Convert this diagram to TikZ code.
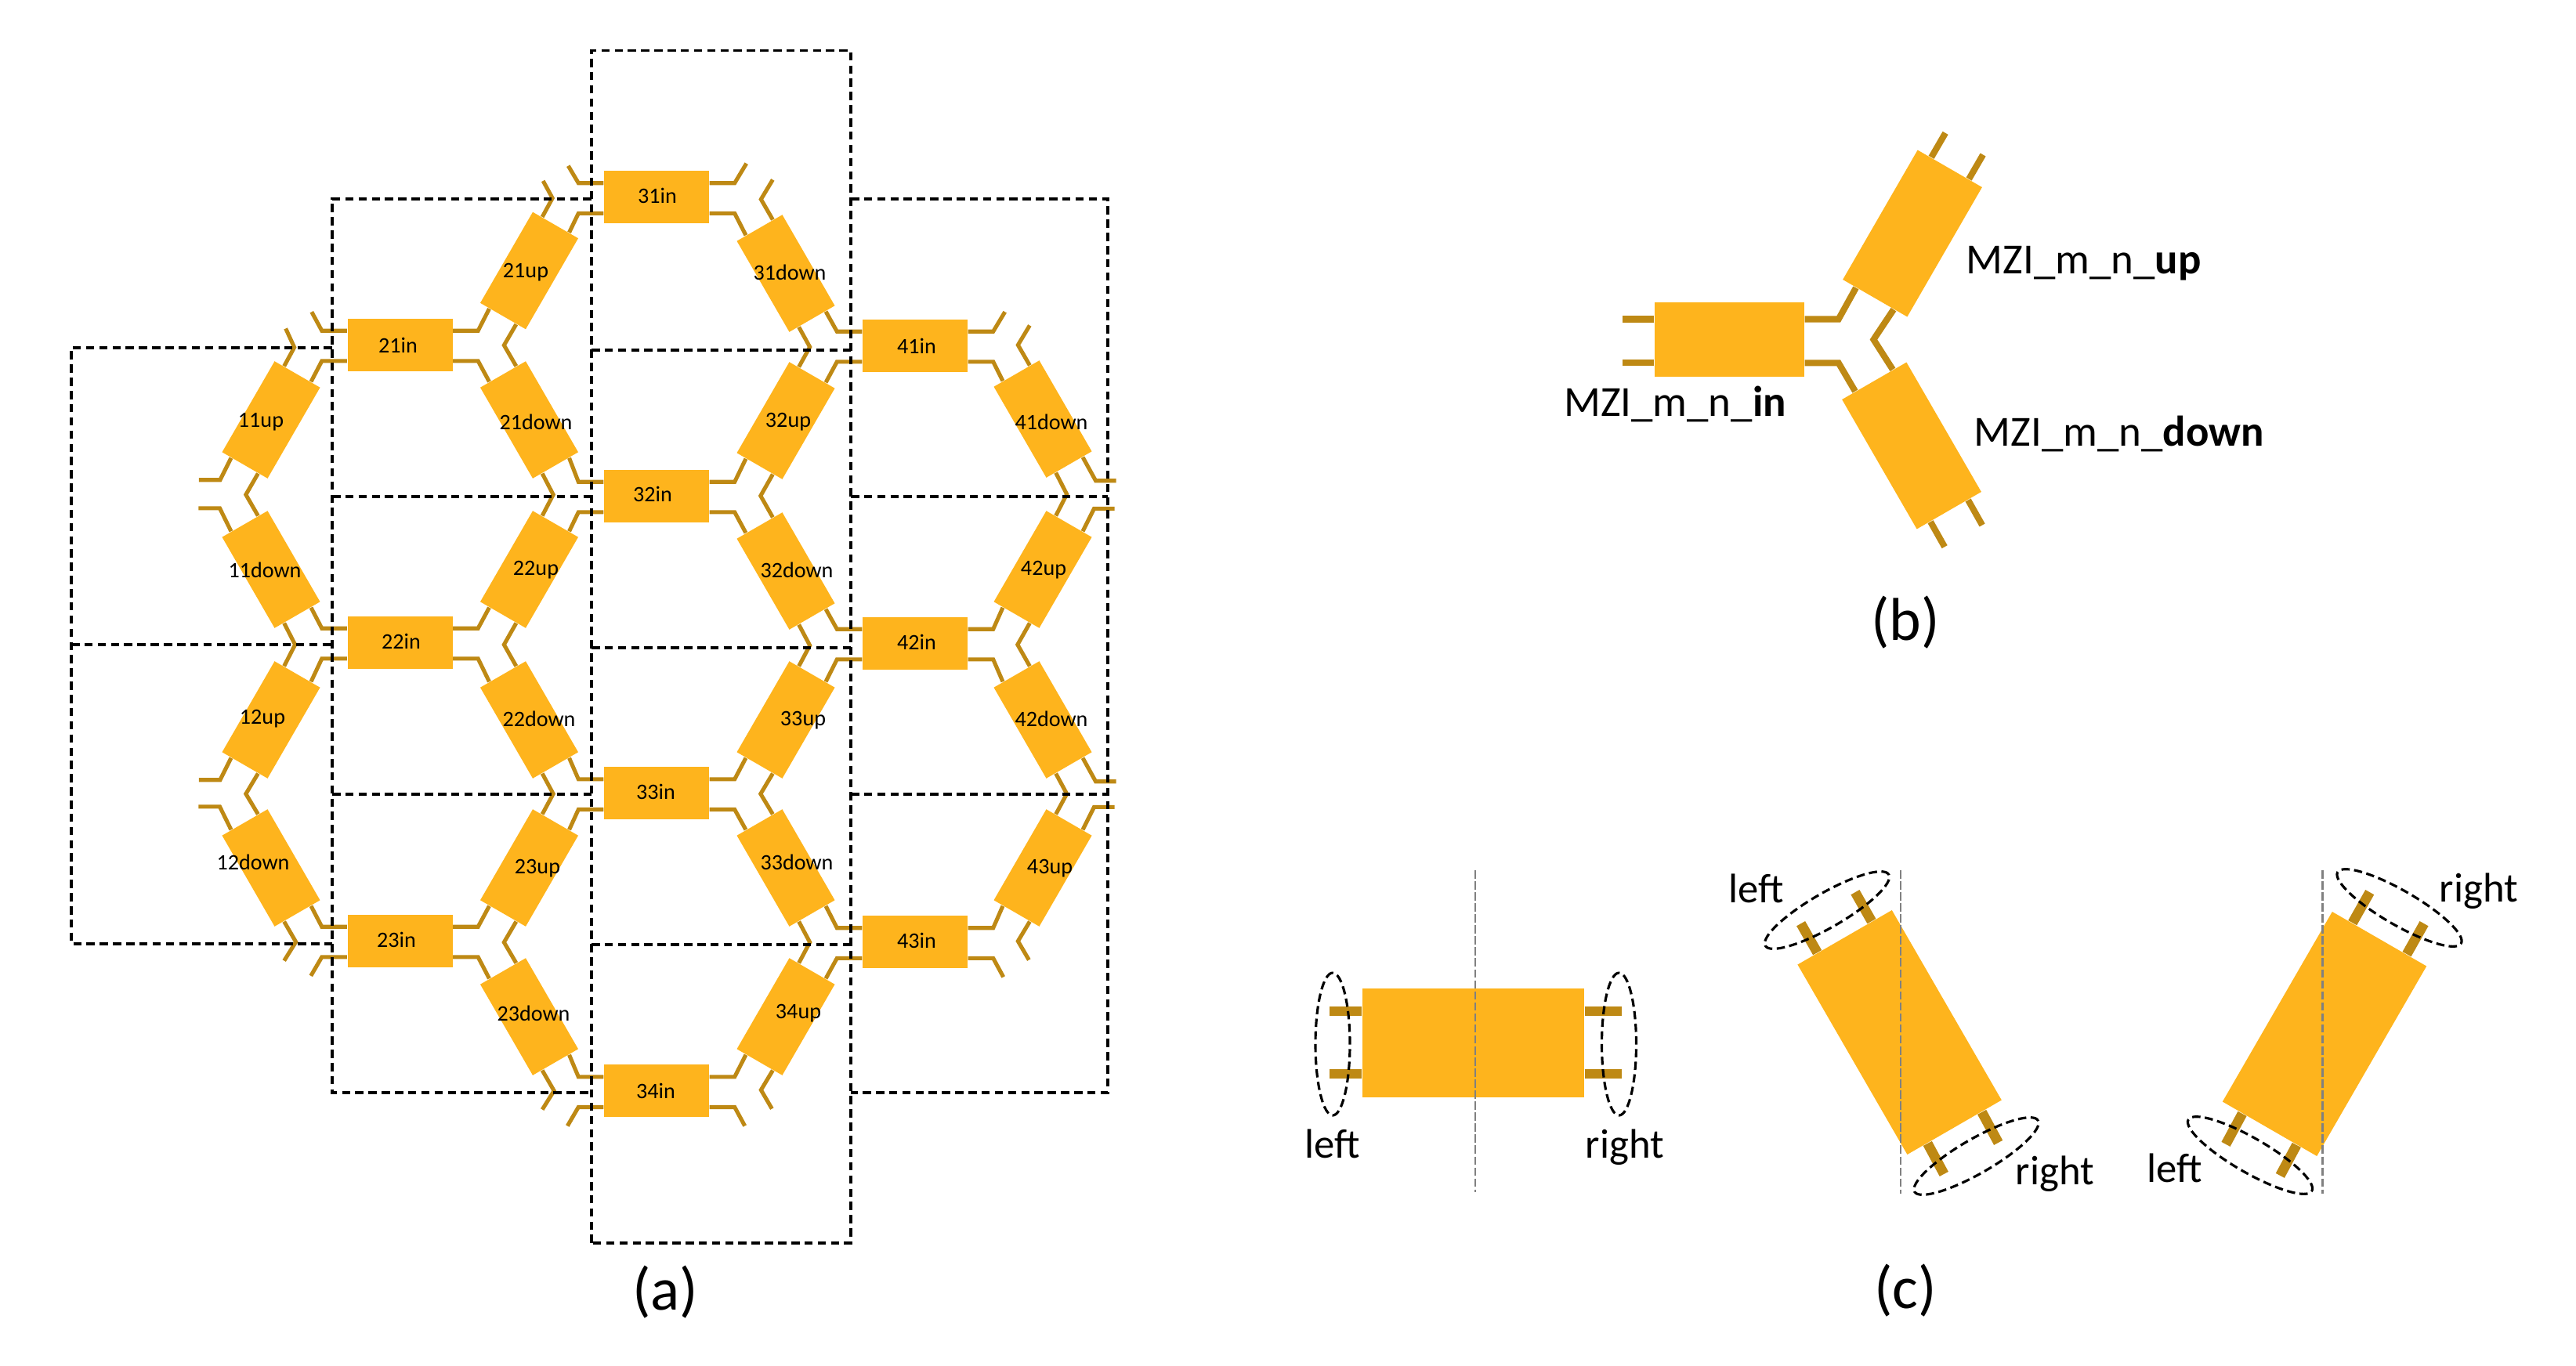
\documentclass[tikz,border=0pt]{standalone}
\usepackage{fontspec}
\setmainfont{Carlito}
\usetikzlibrary{positioning,calc,shapes.geometric}
\definecolor{mzifill}{RGB}{254,180,29}
\definecolor{stubcolor}{RGB}{190,137,20}
\tikzset{>=latex,
  mzi/.style={fill=mzifill, minimum width=1.34cm, minimum height=0.67cm, inner sep=0pt},
  mziup/.style={mzi, rotate=60},
  mzidown/.style={mzi, rotate=-60},
  bigmzi/.style={fill=mzifill, minimum width=1.91cm, minimum height=0.95cm, inner sep=0pt},
  widemzi/.style={fill=mzifill, minimum width=2.8cm, minimum height=1.39cm, inner sep=0pt},
  mzitext/.style={font=\fontsize{8}{9}\selectfont, inner sep=0pt},
  nametext/.style={font=\fontsize{15.6}{18}\selectfont, inner sep=0pt},
  sidetext/.style={font=\fontsize{15}{18}\selectfont, inner sep=0pt},
  captiontext/.style={font=\fontsize{22}{26}\selectfont, inner sep=0pt},
  stub/.style={draw=stubcolor, line width=1.45pt},
  bigstub/.style={draw=stubcolor, line width=2.3pt},
  widestub/.style={draw=stubcolor, line width=3.6pt},
  cell/.style={draw=black, line width=1pt, dash pattern=on 3pt off 1.8pt},
  ring/.style={ellipse, draw=black, line width=0.9pt, dash pattern=on 3pt off 1.6pt, inner sep=0pt, minimum width=1.82cm, minimum height=0.44cm},
  axis/.style={draw=gray, line width=0.6pt, dash pattern=on 3pt off 1pt}
}
\newcommand{\mziports}[3]{%
  \coordinate (#1-wn) at ($(#1.west)!#2!(#1.north west)$);
  \coordinate (#1-ws) at ($(#1.west)!#3!(#1.south west)$);
  \coordinate (#1-en) at ($(#1.east)!#2!(#1.north east)$);
  \coordinate (#1-es) at ($(#1.east)!#3!(#1.south east)$);
}
\newcommand{\inlabel}[3]{\mziports{n#3}{0.52}{0.61}\node[mzitext] (t#3) at (#2) {#3};}
\newcommand{\armlabel}[3]{\mziports{n#3}{0.58}{0.58}\node[mzitext] (t#3) at (#2) {#3};}
\newcommand{\rightcell}[3]{%
  \draw[stub] (n#1-en) -- ++(0.32,0) -- (n#2-wn);
  \draw[stub] (n#1-es) -- ++(0.32,0) -- (n#3-ws);
  \draw[stub] (n#2-ws) -- ([xshift=-0.155cm]$(n#2-ws)!0.5!(n#3-wn)$) -- (n#3-wn);
}
\newcommand{\leftcell}[3]{%
  \draw[stub] (n#1-wn) -- ++(-0.32,0) -- (n#2-en);
  \draw[stub] (n#1-ws) -- ++(-0.32,0) -- (n#3-es);
  \draw[stub] (n#2-es) -- ([xshift=0.14cm]$(n#2-es)!0.5!(n#3-en)$) -- (n#3-en);
}
\begin{document}
\begin{tikzpicture}
  \useasboundingbox (0,0) rectangle (32.88,-17.43);
  % (a)
  \node[mzi] at (5.105,-4.40) (n21in) {}; \inlabel{21in}{5.08,-4.41}{21in}
  \node[mzi, below of=n21in, node distance=3.80cm] (n22in) {}; \inlabel{22in}{5.12,-8.19}{22in}
  \node[mzi, below of=n22in, node distance=3.81cm] (n23in) {}; \inlabel{23in}{5.06,-12.00}{23in}
  \node[mzi] at (8.38,-2.515) (n31in) {}; \inlabel{31in}{8.39,-2.50}{31in}
  \node[mzi, below of=n31in, node distance=3.815cm] (n32in) {}; \inlabel{32in}{8.33,-6.31}{32in}
  \node[mzi, below of=n32in, node distance=3.796cm] (n33in) {}; \inlabel{33in}{8.37,-10.11}{33in}
  \node[mzi, below of=n33in, node distance=3.80cm] (n34in) {}; \inlabel{34in}{8.37,-13.93}{34in}
  \node[mzi] at (11.68,-4.41) (n41in) {}; \inlabel{41in}{11.70,-4.42}{41in}
  \node[mzi, below of=n41in, node distance=3.80cm] (n42in) {}; \inlabel{42in}{11.70,-8.20}{42in}
  \node[mzi, below of=n42in, node distance=3.815cm] (n43in) {}; \inlabel{43in}{11.70,-12.01}{43in}

  \node[mziup] at (3.46,-5.36) (n11up) {}; \armlabel{11up}{3.33,-5.39}{11up}
  \node[mzidown] at ($(n11up)+(0,-1.91)$) (n11down) {}; \armlabel{11down}{3.38,-7.28}{11down}
  \node[mziup] at ($(n11down)+(0,-1.92)$) (n12up) {}; \armlabel{12up}{3.35,-9.18}{12up}
  \node[mzidown] at ($(n12up)+(0,-1.89)$) (n12down) {}; \armlabel{12down}{3.23,-11.01}{12down}
  \node[mziup] at (6.755,-3.455) (n21up) {}; \armlabel{21up}{6.71,-3.48}{21up}
  \node[mzidown] at ($(n21up)+(0,-1.905)$) (n21down) {}; \armlabel{21down}{6.84,-5.39}{21down}
  \node[mziup] at ($(n21down)+(0,-1.91)$) (n22up) {}; \armlabel{22up}{6.84,-7.28}{22up}
  \node[mzidown] at ($(n22up)+(0,-1.92)$) (n22down) {}; \armlabel{22down}{6.88,-9.18}{22down}
  \node[mziup] at ($(n22down)+(0,-1.89)$) (n23up) {}; \armlabel{23up}{6.86,-11.09}{23up}
  \node[mzidown] at ($(n23up)+(0,-1.90)$) (n23down) {}; \armlabel{23down}{6.81,-12.94}{23down}
  \node[mzidown] at (10.03,-3.49) (n31down) {}; \armlabel{31down}{10.08,-3.48}{31down}
  \node[mziup] at ($(n31down)+(0,-1.88)$) (n32up) {}; \armlabel{32up}{10.06,-5.39}{32up}
  \node[mzidown] at ($(n32up)+(0,-1.92)$) (n32down) {}; \armlabel{32down}{10.17,-7.28}{32down}
  \node[mziup] at ($(n32down)+(0,-1.90)$) (n33up) {}; \armlabel{33up}{10.25,-9.20}{33up}
  \node[mzidown] at ($(n33up)+(0,-1.89)$) (n33down) {}; \armlabel{33down}{10.17,-11.01}{33down}
  \node[mziup] at ($(n33down)+(0,-1.90)$) (n34up) {}; \armlabel{34up}{10.19,-12.94}{34up}
  \node[mzidown] at (13.31,-5.35) (n41down) {}; \armlabel{41down}{13.42,-5.39}{41down}
  \node[mziup] at ($(n41down)+(0,-1.92)$) (n42up) {}; \armlabel{42up}{13.32,-7.28}{42up}
  \node[mzidown] at ($(n42up)+(0,-1.92)$) (n42down) {}; \armlabel{42down}{13.42,-9.18}{42down}
  \node[mziup] at ($(n42down)+(0,-1.89)$) (n43up) {}; \armlabel{43up}{13.40,-11.09}{43up}

  \rightcell{21in}{21up}{21down}
  \rightcell{22in}{22up}{22down}
  \rightcell{23in}{23up}{23down}
  \rightcell{32in}{32up}{32down}
  \rightcell{33in}{33up}{33down}
  \rightcell{42in}{42up}{42down}
  \leftcell{22in}{11down}{12up}
  \leftcell{32in}{21down}{22up}
  \leftcell{33in}{22down}{23up}
  \leftcell{41in}{31down}{32up}
  \leftcell{42in}{32down}{33up}
  \leftcell{43in}{33down}{34up}
  % open ends on the top and bottom of the columns
  \draw[stub] (n21in-wn) -- ++(-0.32,0) -- ++(-0.13,0.24);
  \draw[stub] (n21in-ws) -- ++(-0.32,0) -- (n11up-es);
  \draw[stub] (n11up-en) -- ++(0.13,0.24) -- ++(-0.11,0.24);
  \draw[stub] (n23in-wn) -- ++(-0.32,0) -- (n12down-en);
  \draw[stub] (n23in-ws) -- ++(-0.32,0) -- ++(-0.14,-0.24);
  \draw[stub] (n12down-es) -- ++(0.15,-0.26) -- ++(-0.15,-0.24);
  \draw[stub] (n31in-wn) -- ++(-0.32,0) -- ++(-0.13,0.22);
  \draw[stub] (n31in-ws) -- ++(-0.32,0) -- (n21up-es);
  \draw[stub] (n21up-en) -- ++(0.13,0.24) -- ++(-0.12,0.22);
  \draw[stub] (n34in-wn) -- ++(-0.32,0) -- (n23down-en);
  \draw[stub] (n34in-ws) -- ++(-0.32,0) -- ++(-0.14,-0.24);
  \draw[stub] (n23down-es) -- ++(0.15,-0.26) -- ++(-0.15,-0.24);
  \draw[stub] (n31in-en) -- ++(0.32,0) -- ++(0.15,0.25);
  \draw[stub] (n31in-es) -- ++(0.32,0) -- (n31down-ws);
  \draw[stub] (n31down-wn) -- ++(-0.15,0.26) -- ++(0.15,0.25);
  \draw[stub] (n34in-en) -- ++(0.32,0) -- (n34up-wn);
  \draw[stub] (n34in-es) -- ++(0.32,0) -- ++(0.13,-0.24);
  \draw[stub] (n34up-ws) -- ++(-0.15,-0.25) -- ++(0.14,-0.24);
  \draw[stub] (n41in-en) -- ++(0.32,0) -- ++(0.15,0.25);
  \draw[stub] (n41in-es) -- ++(0.32,0) -- (n41down-ws);
  \draw[stub] (n41down-wn) -- ++(-0.15,0.26) -- ++(0.15,0.25);
  \draw[stub] (n43in-en) -- ++(0.32,0) -- (n43up-wn);
  \draw[stub] (n43in-es) -- ++(0.32,0) -- ++(0.13,-0.24);
  \draw[stub] (n43up-ws) -- ++(-0.15,-0.25) -- ++(0.14,-0.24);
  % open ends on the outer sides
  \draw[stub] (n11up-wn) -- ++(-0.14,-0.28) -- ++(-0.27,0);
  \draw[stub] (n11down-ws) -- ++(-0.145,0.295) -- ++(-0.27,0);
  \draw[stub] (n11up-ws) -- ([xshift=-0.155cm]$(n11up-ws)!0.5!(n11down-wn)$) -- (n11down-wn);
  \draw[stub] (n12up-wn) -- ++(-0.14,-0.28) -- ++(-0.27,0);
  \draw[stub] (n12down-ws) -- ++(-0.145,0.295) -- ++(-0.27,0);
  \draw[stub] (n12up-ws) -- ([xshift=-0.155cm]$(n12up-ws)!0.5!(n12down-wn)$) -- (n12down-wn);
  \draw[stub] (n41down-en) -- ++(0.165,-0.30) -- ++(0.26,0);
  \draw[stub] (n42up-es) -- ++(0.145,0.29) -- ++(0.26,0);
  \draw[stub] (n41down-es) -- ([xshift=0.14cm]$(n41down-es)!0.5!(n42up-en)$) -- (n42up-en);
  \draw[stub] (n42down-en) -- ++(0.165,-0.30) -- ++(0.26,0);
  \draw[stub] (n43up-es) -- ++(0.145,0.29) -- ++(0.26,0);
  \draw[stub] (n42down-es) -- ([xshift=0.14cm]$(n42down-es)!0.5!(n43up-en)$) -- (n43up-en);

  % each shared edge only once, or the dashes fill up
  \draw[cell] (4.24,-4.44) -- (0.91,-4.44) -- (0.91,-12.05) -- (4.24,-12.05);
  \draw[cell] (0.91,-8.23) -- (4.24,-8.23);
  \draw[cell] (7.55,-2.54) -- (4.24,-2.54) -- (4.24,-13.95) -- (7.55,-13.95);
  \draw[cell] (4.24,-6.34) -- (7.55,-6.34);
  \draw[cell] (4.24,-10.14) -- (7.55,-10.14);
  \draw[cell] (7.55,-15.87) -- (7.55,-0.645) -- (10.86,-0.645) -- (10.86,-15.87) -- cycle;
  \draw[cell] (7.55,-4.47) -- (10.86,-4.47);
  \draw[cell] (7.55,-8.27) -- (10.86,-8.27);
  \draw[cell] (7.55,-12.06) -- (10.86,-12.06);
  \draw[cell] (10.86,-2.54) -- (14.14,-2.54) -- (14.14,-13.95) -- (10.86,-13.95);
  \draw[cell] (10.86,-6.34) -- (14.14,-6.34);
  \draw[cell] (10.86,-10.14) -- (14.14,-10.14);
  \node[captiontext] (capa) at (8.49,-16.50) {(a)};

  % (b)
  \node[bigmzi] at (22.075,-4.335) (bin) {}; \mziports{bin}{0.54}{0.62}
  \node[bigmzi, rotate=60] at (24.41,-2.98) (bup) {}; \mziports{bup}{0.575}{0.575}
  \node[bigmzi, rotate=-60] at (24.40,-5.69) (bdown) {}; \mziports{bdown}{0.575}{0.575}
  \draw[bigstub] (bin-wn) -- ++(-0.40,0);
  \draw[bigstub] (bin-ws) -- ++(-0.40,0);
  \draw[bigstub] (bin-en) -- ++(0.43,0) -- (bup-wn);
  \draw[bigstub] (bin-es) -- ++(0.43,0) -- (bdown-ws);
  \draw[bigstub] (bup-ws) -- ([xshift=-0.25cm]$(bup-ws)!0.5!(bdown-wn)$) -- (bdown-wn);
  \draw[bigstub] (bup-en) -- ++(0.18,0.31);
  \draw[bigstub] (bup-es) -- ++(0.18,0.31);
  \draw[bigstub] (bdown-en) -- ++(0.18,-0.32);
  \draw[bigstub] (bdown-es) -- ++(0.18,-0.32);
  \node[nametext] (tin) at (21.38,-5.16) {MZI\_m\_n\_\textbf{in}};
  \node[nametext, anchor=west] (tup) at (25.09,-3.36) {MZI\_m\_n\_\textbf{up}};
  \node[nametext, anchor=west] (tdown) at (25.19,-5.54) {MZI\_m\_n\_\textbf{down}};
  \node[captiontext] (capb) at (24.32,-7.95) {(b)};

  % (c)
  \node[widemzi, minimum width=2.83cm] at (18.805,-13.31) (cflat) {}; \mziports{cflat}{0.57}{0.57}
  \node[widemzi, rotate=-60] at (24.246,-13.18) (ctilta) {}; \mziports{ctilta}{0.57}{0.57}
  \node[widemzi, rotate=60] at (29.67,-13.20) (ctiltb) {}; \mziports{ctiltb}{0.57}{0.57}
  \draw[widestub] (cflat-wn) -- ++(-0.41,0);
  \draw[widestub] (cflat-ws) -- ++(-0.41,0);
  \draw[widestub] (cflat-en) -- ++(0.47,0);
  \draw[widestub] (cflat-es) -- ++(0.47,0);
  \draw[widestub] (ctilta-wn) -- ++(-0.21,0.37);
  \draw[widestub] (ctilta-ws) -- ++(-0.21,0.37);
  \draw[widestub] (ctilta-en) -- ++(0.21,-0.39);
  \draw[widestub] (ctilta-es) -- ++(0.21,-0.39);
  \draw[widestub] (ctiltb-en) -- ++(0.22,0.39);
  \draw[widestub] (ctiltb-es) -- ++(0.22,0.39);
  \draw[widestub] (ctiltb-wn) -- ++(-0.21,-0.39);
  \draw[widestub] (ctiltb-ws) -- ++(-0.21,-0.39);
  \coordinate (aux1) at (18.83,-11.11);
  \coordinate (aux2) at (18.83,-15.22);
  \coordinate (aux3) at (24.26,-11.11);
  \coordinate (aux4) at (24.26,-15.24);
  \coordinate (aux5) at (29.645,-11.11);
  \coordinate (aux6) at (29.645,-15.24);
  \draw[axis] (aux1) -- (aux2);
  \draw[axis] (aux3) -- (aux4);
  \draw[axis] (aux5) -- (aux6);
  \node[ring, rotate=90] (rleft) at (17.01,-13.33) {};
  \node[ring, rotate=90] (rright) at (20.665,-13.33) {};
  \node[ring, rotate=30] (rtopa) at (23.32,-11.62) {};
  \node[ring, rotate=30] (rbota) at (25.225,-14.76) {};
  \node[ring, rotate=-30] (rtopb) at (30.625,-11.59) {};
  \node[ring, rotate=-30] (rbotb) at (28.72,-14.75) {};
  \node[sidetext] (lleft) at (17.01,-14.60) {left};
  \node[sidetext] (lright) at (20.74,-14.65) {right};
  \node[sidetext] (ltopa) at (22.42,-11.34) {left};
  \node[sidetext] (lbota) at (26.23,-14.99) {right};
  \node[sidetext] (ltopb) at (31.64,-11.38) {right};
  \node[sidetext] (lbotb) at (27.76,-14.91) {left};
  \node[captiontext] (capc) at (24.32,-16.48) {(c)};
\end{tikzpicture}
\end{document}
